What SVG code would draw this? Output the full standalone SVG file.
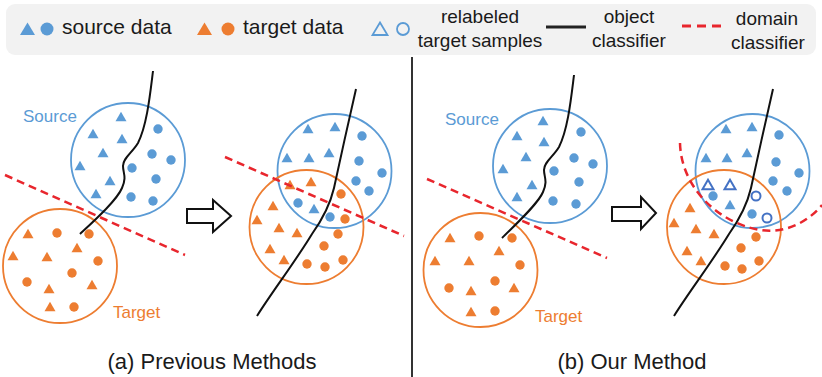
<svg xmlns="http://www.w3.org/2000/svg" width="822" height="377" viewBox="0 0 822 377">
<style>
text{font-family:"Liberation Sans",Arial,sans-serif;fill:#1a1a1a}
.leg{font-size:19px;text-anchor:middle}
.leg1{font-size:21px}
.cap{font-size:22px;text-anchor:middle}
.lbl{font-size:17px}
.bf{fill:#5b9bd5}
.of{fill:#ed7d31}
.ring-b{fill:none;stroke:#5b9bd5;stroke-width:1.8}
.ring-o{fill:none;stroke:#ed7d31;stroke-width:1.8}
.hollow{fill:none;stroke:#4472c4;stroke-width:2}
.obj{fill:none;stroke:#111;stroke-width:2}
.dom{fill:none;stroke:#e8262d;stroke-width:2.5;stroke-dasharray:8 5}
.arrow{fill:#fff;stroke:#111;stroke-width:2;stroke-linejoin:miter}
</style>
<defs>
<path id="tri" d="M0,-5.2 L5.5,4.3 L-5.5,4.3 Z"/>
<path id="tri-l" d="M0,-6.5 L7.5,6 L-7.5,6 Z"/>
</defs>

<g id="legend">
<rect x="6" y="4" width="810" height="51" rx="9" fill="#f2f2f2"/>
<use href="#tri-l" x="27.5" y="29" class="bf"/>
<circle cx="47" cy="29" r="6.5" class="bf"/>
<text x="62" y="34" class="leg1">source data</text>
<use href="#tri-l" x="204.5" y="29" class="of"/>
<circle cx="228" cy="29" r="6.5" class="of"/>
<text x="243" y="34" class="leg1">target data</text>
<use href="#tri-l" x="380" y="29" style="fill:none;stroke:#5b9bd5;stroke-width:1.8"/>
<circle cx="403" cy="29" r="6" style="fill:none;stroke:#5b9bd5;stroke-width:1.8"/>
<text x="480" y="23" class="leg">relabeled</text>
<text x="480" y="47" class="leg">target samples</text>
<line x1="546" y1="27" x2="586" y2="27" stroke="#222" stroke-width="3"/>
<text x="629" y="23" class="leg">object</text>
<text x="629" y="47" class="leg">classifier</text>
<line x1="682" y1="26" x2="723" y2="26" stroke="#e8262d" stroke-width="3" stroke-dasharray="9 6"/>
<text x="767" y="25" class="leg">domain</text>
<text x="768" y="49" class="leg">classifier</text>
</g>

<line id="divider" x1="412" y1="57" x2="412" y2="377" stroke="#333" stroke-width="2"/>

<!-- Panel (a) left -->
<g id="a-source">
<circle cx="128" cy="160" r="57" class="ring-b"/>
<text x="23" y="122" class="lbl" style="fill:#5b9bd5">Source</text>
<g class="bf">
<use href="#tri" x="121" y="117"/><use href="#tri" x="93" y="134"/><use href="#tri" x="122" y="139"/><use href="#tri" x="103" y="153"/><use href="#tri" x="80" y="166"/><use href="#tri" x="110" y="181"/><use href="#tri" x="96" y="194"/>
<circle cx="158" cy="129" r="4.7"/><circle cx="152" cy="154" r="4.7"/><circle cx="171" cy="160" r="4.7"/><circle cx="132" cy="168" r="4.7"/><circle cx="156" cy="179" r="4.7"/><circle cx="131" cy="197" r="4.7"/><circle cx="153" cy="201" r="4.7"/>
</g>
</g>
<g id="a-target">
<circle cx="60" cy="266" r="57" class="ring-o"/>
<text x="113" y="318" class="lbl" style="fill:#ed7d31">Target</text>
<g class="of">
<use href="#tri" x="28" y="234"/><use href="#tri" x="77" y="248"/><use href="#tri" x="13" y="256"/><use href="#tri" x="47" y="257"/><use href="#tri" x="49" y="289"/><use href="#tri" x="92" y="285"/><use href="#tri" x="50" y="307"/>
<circle cx="57" cy="233" r="4.7"/><circle cx="89" cy="234" r="4.7"/><circle cx="98" cy="261" r="4.7"/><circle cx="72" cy="273" r="4.7"/><circle cx="27" cy="282" r="4.7"/><circle cx="74" cy="307" r="4.7"/>
</g>
</g>

<!-- Panel (a) right -->
<g id="a-merged-source">
<circle cx="334.5" cy="171" r="57" class="ring-b"/>
<g class="bf">
<use href="#tri" x="308" y="129"/><use href="#tri" x="335" y="127"/><use href="#tri" x="287" y="158"/><use href="#tri" x="309" y="158"/><use href="#tri" x="329" y="153"/><use href="#tri" x="314" y="209"/>
<circle cx="362" cy="136" r="4.7"/><circle cx="359" cy="161" r="4.7"/><circle cx="382" cy="173" r="4.7"/><circle cx="356" cy="181" r="4.7"/><circle cx="369" cy="191" r="4.7"/><circle cx="298" cy="203" r="4.7"/><circle cx="330" cy="217" r="4.7"/>
</g>
</g>
<g id="a-merged-target">
<circle cx="306.5" cy="227" r="57" class="ring-o"/>
<g class="of">
<use href="#tri" x="290" y="185"/><use href="#tri" x="311" y="182"/><use href="#tri" x="273" y="206"/><use href="#tri" x="257" y="220"/><use href="#tri" x="279" y="228"/><use href="#tri" x="297" y="233"/><use href="#tri" x="270" y="249"/><use href="#tri" x="284" y="260"/>
<circle cx="341" cy="194" r="4.7"/><circle cx="345" cy="219" r="4.7"/><circle cx="338" cy="234" r="4.7"/><circle cx="324" cy="246" r="4.7"/><circle cx="307" cy="264" r="4.7"/><circle cx="325" cy="267" r="4.7"/><circle cx="343" cy="260" r="4.7"/>
</g>
</g>

<!-- Panel (b) left -->
<g id="b-source">
<circle cx="550" cy="166" r="57" class="ring-b"/>
<text x="445" y="125" class="lbl" style="fill:#5b9bd5">Source</text>
<g class="bf">
<use href="#tri" x="543" y="121"/><use href="#tri" x="517" y="136"/><use href="#tri" x="544" y="142"/><use href="#tri" x="526" y="157"/><use href="#tri" x="503" y="169"/><use href="#tri" x="532" y="185"/><use href="#tri" x="517" y="197"/>
<circle cx="581" cy="132" r="4.7"/><circle cx="574" cy="158" r="4.7"/><circle cx="593" cy="164" r="4.7"/><circle cx="554" cy="171" r="4.7"/><circle cx="579" cy="182" r="4.7"/><circle cx="553" cy="201" r="4.7"/><circle cx="576" cy="204" r="4.7"/>
</g>
</g>
<g id="b-target">
<circle cx="480.5" cy="270" r="57" class="ring-o"/>
<text x="535" y="322" class="lbl" style="fill:#ed7d31">Target</text>
<g class="of">
<use href="#tri" x="450" y="238"/><use href="#tri" x="499" y="251"/><use href="#tri" x="435" y="261"/><use href="#tri" x="469" y="261"/><use href="#tri" x="471" y="291"/><use href="#tri" x="514" y="288"/><use href="#tri" x="471" y="312"/>
<circle cx="479" cy="236" r="4.7"/><circle cx="512" cy="238" r="4.7"/><circle cx="520" cy="265" r="4.7"/><circle cx="495" cy="281" r="4.7"/><circle cx="449" cy="288" r="4.7"/><circle cx="495" cy="311" r="4.7"/>
</g>
</g>

<!-- Panel (b) right -->
<g id="b-merged-source">
<circle cx="752.5" cy="171" r="57" class="ring-b"/>
<g class="bf">
<use href="#tri" x="726" y="129"/><use href="#tri" x="752" y="127"/><use href="#tri" x="706" y="158"/><use href="#tri" x="727" y="158"/><use href="#tri" x="747" y="153"/><use href="#tri" x="730" y="205"/>
<circle cx="779" cy="135" r="4.7"/><circle cx="776" cy="162" r="4.7"/><circle cx="799" cy="173" r="4.7"/><circle cx="773" cy="181" r="4.7"/><circle cx="787" cy="191" r="4.7"/><circle cx="713" cy="196" r="4.7"/><circle cx="752" cy="214" r="4.7"/>
</g>
</g>
<g id="b-merged-target">
<circle cx="724" cy="227" r="57" class="ring-o"/>
<g class="of">
<use href="#tri" x="690" y="208"/><use href="#tri" x="674" y="223"/><use href="#tri" x="696" y="229"/><use href="#tri" x="714" y="234"/><use href="#tri" x="687" y="251"/><use href="#tri" x="701" y="261"/>
<circle cx="756" cy="237" r="4.7"/><circle cx="741" cy="248" r="4.7"/><circle cx="725" cy="266" r="4.7"/><circle cx="742" cy="269" r="4.7"/><circle cx="759" cy="261" r="4.7"/>
</g>
</g>
<g id="b-relabeled" class="hollow">
<use href="#tri" x="708" y="185"/><use href="#tri" x="730" y="185"/>
<circle cx="756" cy="196" r="4.5"/><circle cx="767" cy="218" r="4.5"/>
</g>

<g id="connectors">
<path class="obj" d="M153,71 C150,95 147,125 138,143 C132,153 123,158 123,166 C123,173 127,177 122,188 C117,200 95,220 80,234"/>
<path class="dom" d="M5,175 L185,255"/>
<path class="obj" d="M356,89 C350,115 340,160 334,188 C330,205 322,220 312,234 C295,262 272,292 257,316"/>
<path class="dom" d="M225,157 L404,236"/>
<path class="obj" d="M574,75 C571,99 568,129 559,147 C553,157 544,162 544,170 C544,177 548,181 543,192 C538,204 516,224 502,238"/>
<path class="dom" d="M427,179 L607,258"/>
<path class="obj" d="M773,89 C767,115 757,160 751,188 C747,205 739,220 729,234 C712,262 689,292 674,316"/>
<path class="dom" d="M680,143 C681,185 715,222 760,230 C785,234 808,222 822,205"/>
<polygon id="arrow-a" class="arrow" points="187,209 213,209 213,200 231,216 213,232 213,223 187,223"/>
<polygon id="arrow-b" class="arrow" points="612,207 641,207 641,197 656,213 641,229 641,221 612,221"/>
</g>

<text x="212" y="369" class="cap">(a) Previous Methods</text>
<text x="632" y="369" class="cap">(b) Our Method</text>
</svg>
